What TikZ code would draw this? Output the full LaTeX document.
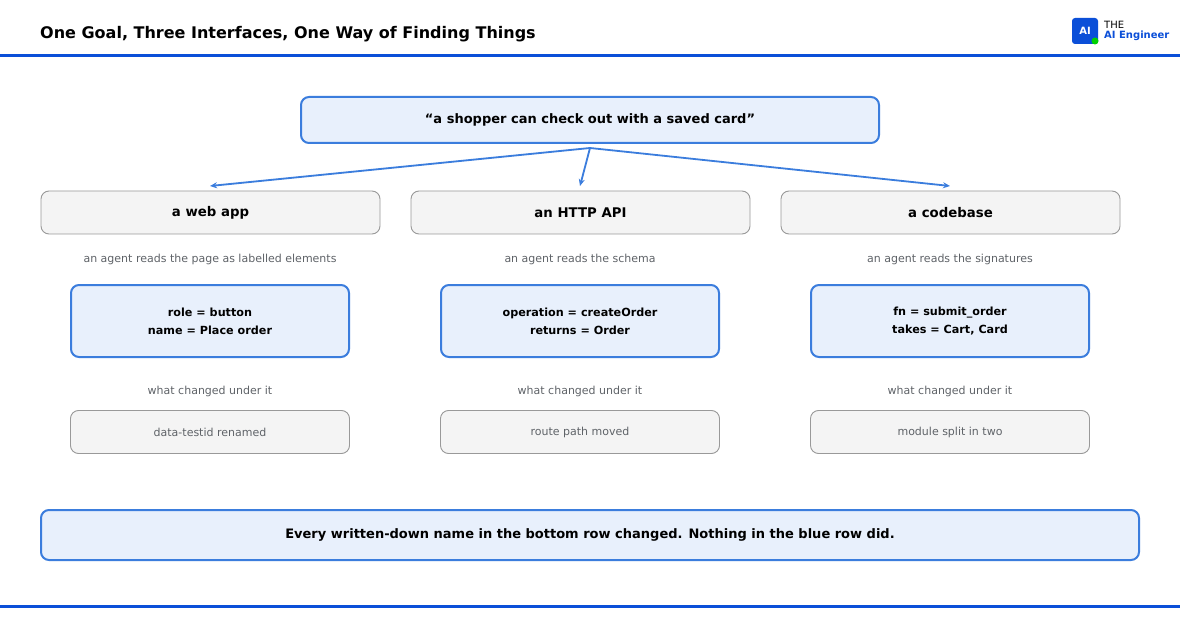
\documentclass[tikz,border=0pt]{standalone}
\usepackage{fontspec}
\setmainfont{DejaVu Sans}
\usetikzlibrary{arrows.meta}
\definecolor{bl}{HTML}{3B7DDD}
\definecolor{blf}{HTML}{E8F0FC}
\definecolor{gf}{HTML}{F4F4F4}
\definecolor{gd}{HTML}{999999}
\definecolor{tg}{HTML}{5F6368}
\definecolor{hb}{HTML}{0B4FD8}
\begin{document}
\begin{tikzpicture}[x=1pt,y=-1pt,
 bbox/.style={draw=bl,line width=2pt,fill=blf,rounded corners=8pt,font=\bfseries\fontsize{13}{16}\selectfont,align=center,inner sep=0pt},
 gbox/.style={draw=gd,line width=0.9pt,fill=gf,rounded corners=8pt,inner sep=0pt,align=center},
 sub/.style={text=tg,font=\fontsize{11}{14}\selectfont},
 arr/.style={draw=bl,line width=1.8pt,-{Stealth[length=7pt,width=6pt]}}]
\useasboundingbox (0,0) rectangle (1180,620);
\fill[white] (0,0) rectangle (1180,620);
\node[anchor=west,inner sep=0pt,font=\bfseries\fontsize{16}{19}\selectfont] (title) at (40,34) {One Goal, Three Interfaces, One Way of Finding Things};
\draw[hb,line width=3pt] (0,56) -- (1180,56);
\draw[hb,line width=3pt] (0,606) -- (1180,606);
\node[fill=hb,rounded corners=3pt,minimum width=26pt,minimum height=26pt,text=white,font=\bfseries\fontsize{10}{11}\selectfont] (logo) at (1085,31) {AI};
\fill[green!70!black!60!green] (1095,41) circle (3.5pt);
\node[anchor=north west,align=left,inner sep=0pt,font=\fontsize{10}{11}\selectfont] (lt) at (1104,21) {THE\\[-1pt]\textcolor{hb}{\bfseries AI Engineer}};
\node[bbox,minimum width=578pt,minimum height=46pt] (goal) at (590,120) {“a shopper can check out with a saved card”};
\coordinate (g) at (590,148);
\foreach \n/\cx/\t/\s/\a/\c in {w/210/a web app/an agent reads the page as labelled elements/{role = button\\name = Place order}/data-testid renamed,
 h/580/an HTTP API/an agent reads the schema/{operation = createOrder\\returns = Order}/route path moved,
 c/950/a codebase/an agent reads the signatures/{fn = submit\_order\\takes = Cart, Card}/module split in two}{
 \node[gbox,minimum width=339pt,minimum height=43pt,font=\bfseries\fontsize{13.3}{16}\selectfont] (\n t) at (\cx+0.5,212.5) {\t};
 \node[sub] (\n s) at (\cx,259) {\s};
 \node[bbox,minimum width=278pt,minimum height=72pt,font=\bfseries\fontsize{11.2}{18}\selectfont] (\n b) at (\cx,321) {\a};
 \node[sub] (\n w) at (\cx,391) {what changed under it};
 \node[gbox,minimum width=279pt,minimum height=43pt,text=tg,font=\fontsize{11}{14}\selectfont] (\n g) at (\cx,432) {\c};
 \coordinate (\n e) at (\cx,186);
 \draw[arr] (g) -- (\n e);
}
\node[bbox,minimum width=1098pt,minimum height=50pt,font=\bfseries\fontsize{13}{16}\selectfont] (bot) at (590,535) {Every written-down name in the bottom row changed. Nothing in the blue row did.};
\end{tikzpicture}
\end{document}
